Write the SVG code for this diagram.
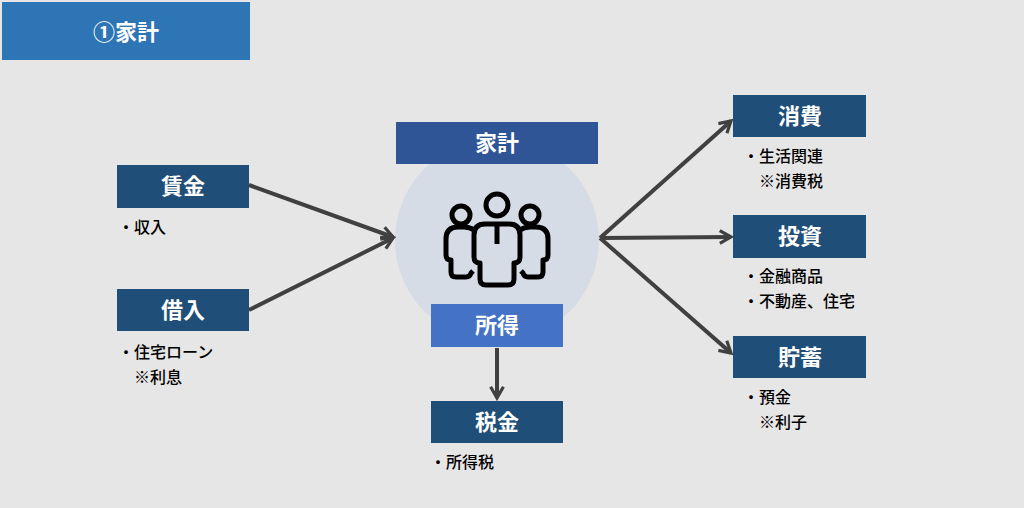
<svg xmlns="http://www.w3.org/2000/svg" width="1024" height="508" viewBox="0 0 1024 508">
<style>
text{font-family:"Noto Sans CJK JP","Noto Sans",sans-serif}
.n{fill:#1F4E79}
.t{fill:#fff;font-size:22px;font-weight:bold;text-anchor:middle}
.s{fill:#000;font-size:16px;font-weight:500}
.c{stroke:#404040;stroke-width:4;fill:none;marker-end:url(#a)}
.ic{fill:none;stroke:#000;stroke-width:5;stroke-linejoin:round}
</style>
<defs><marker id="a" viewBox="0 0 10 10" refX="8" refY="5" markerWidth="4" markerHeight="4" orient="auto"><path d="M1,1 L8,5 L1,9" fill="none" stroke="#404040" stroke-width="2"/></marker></defs>
<rect width="1024" height="508" fill="#E7E6E6"/>
<g id="title"><rect x="2" y="2" width="248" height="58" fill="#2E75B6"/><text x="126" y="40" class="t">①家計</text></g>
<g id="center">
<circle cx="497" cy="240" r="102" fill="#D6DCE5"/>
<g class="ic">
<circle cx="497" cy="205" r="11"/><circle cx="461" cy="215" r="9"/><circle cx="530" cy="215" r="9"/>
<path d="M485,224 h24 q11,0 11,11 v22 q0,6 -6,6 v16 q0,6 -6,6 h-22 q-6,0 -6,-6 v-16 q-6,0 -6,-6 v-22 q0,-11 11,-11z"/>
<path d="M497,224 v20"/>
<path d="M474,230 q-4,-3 -10,-3 h-6 q-12,0 -12,12 v16 q0,5 5,5 v12 q0,5 5,5 h10 q4,0 5,-4 l2,-2"/>
<path d="M520,230 q4,-3 10,-3 h6 q12,0 12,12 v16 q0,5 -5,5 v12 q0,5 -5,5 h-10 q-4,0 -5,-4 l-2,-2"/>
</g>
<rect x="396" y="122" width="202" height="42" fill="#2F5597"/><text x="497" y="151" class="t">家計</text>
<rect x="431" y="304" width="132" height="43" fill="#4472C4"/><text x="497" y="333" class="t">所得</text>
</g>
<g id="chingin"><rect x="117" y="165" width="132" height="43" class="n"/><text x="183" y="194" class="t">賃金</text><text x="118" y="233" class="s">・収入</text></g>
<g id="kariire"><rect x="117" y="289" width="132" height="42" class="n"/><text x="183" y="318" class="t">借入</text><text x="118" y="358" class="s">・住宅ローン</text><text x="134" y="383" class="s">※利息</text></g>
<g id="zeikin"><rect x="431" y="401" width="132" height="42" class="n"/><text x="497" y="430" class="t">税金</text><text x="430" y="468" class="s">・所得税</text></g>
<g id="shohi"><rect x="733" y="95" width="133" height="42" class="n"/><text x="800" y="124" class="t">消費</text><text x="743" y="162" class="s">・生活関連</text><text x="759" y="187" class="s">※消費税</text></g>
<g id="toshi"><rect x="733" y="215" width="133" height="43" class="n"/><text x="800" y="244" class="t">投資</text><text x="743" y="282" class="s">・金融商品</text><text x="743" y="307" class="s">・不動産、住宅</text></g>
<g id="chochiku"><rect x="733" y="336" width="133" height="42" class="n"/><text x="800" y="365" class="t">貯蓄</text><text x="743" y="403" class="s">・預金</text><text x="759" y="428" class="s">※利子</text></g>
<g id="connectors">
<path class="c" d="M249,185 L393,237"/>
<path class="c" d="M249,310 L393,238"/>
<path class="c" d="M600,238 L731,121"/>
<path class="c" d="M600,238 L731,237"/>
<path class="c" d="M600,238 L731,353"/>
<path class="c" d="M497,348 L497,398"/>
</g>
</svg>
